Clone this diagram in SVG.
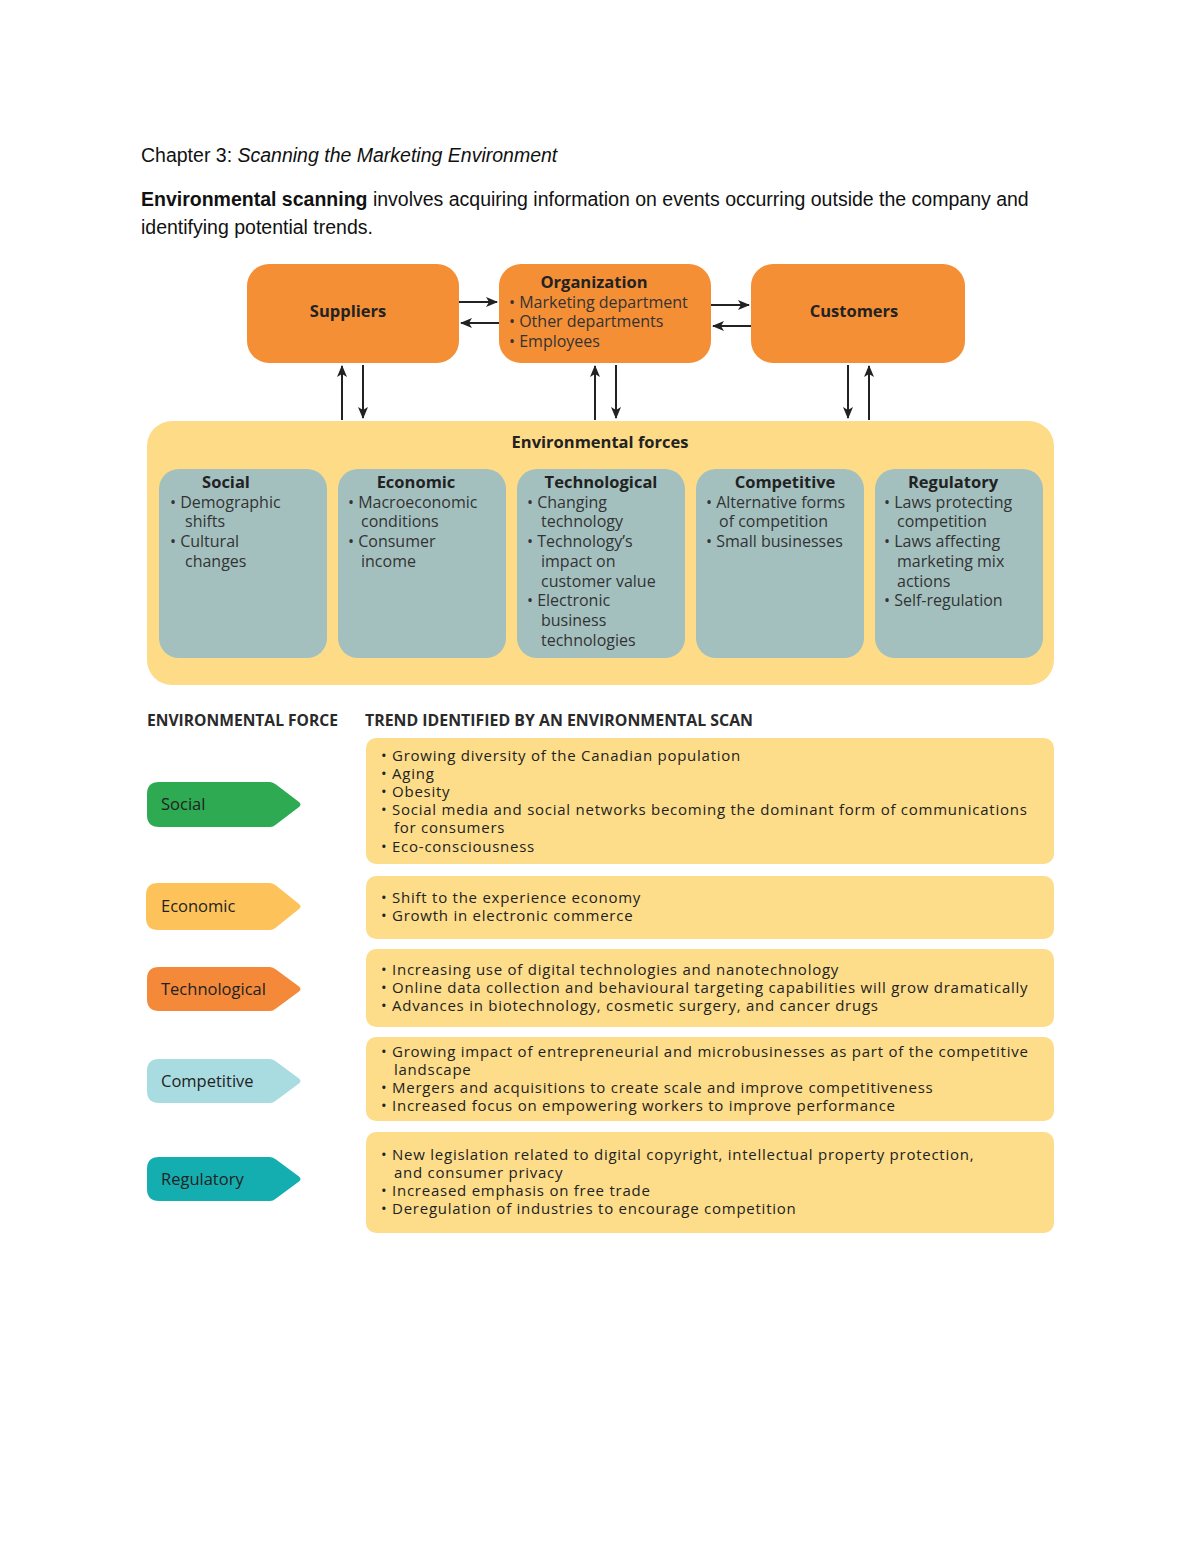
<svg xmlns="http://www.w3.org/2000/svg" width="1200" height="1553" viewBox="0 0 1200 1553">
<defs>
<marker id="ah" viewBox="0 0 12 10" refX="11" refY="5" markerWidth="12" markerHeight="10" markerUnits="userSpaceOnUse" orient="auto">
<path d="M0,0 L12,5 L0,10 L3,5 Z" fill="#222"/>
</marker>
<style>
.doc{font-family:"Liberation Sans",Arial,sans-serif;font-size:19.5px;fill:#111}
.dg{font-family:"Open Sans","Liberation Sans",sans-serif;fill:#222}
.top{fill:#F58F36}
.env{fill:#FDDB87}
.inner{fill:#A3C0BF}
.trend{fill:#FDDD8A}
.hd{font-size:16.5px;font-weight:bold}
.it{font-size:16px;fill:#333}
.tr{font-size:15px;letter-spacing:0.75px;fill:#222}
.tag{font-size:16.5px;fill:#222}
.th{font-size:15.5px;font-weight:bold;fill:#2a2a2a}
.conn line{stroke:#222;stroke-width:2;marker-end:url(#ah)}
</style>
</defs>
<rect width="1200" height="1553" fill="#fff"/>

<g id="title">
<text class="doc" x="141" y="162">Chapter 3: <tspan font-style="italic">Scanning the Marketing Environment</tspan></text>
<text class="doc" x="141" y="206"><tspan font-weight="bold">Environmental scanning</tspan> involves acquiring information on events occurring outside the company and</text>
<text class="doc" x="141" y="234">identifying potential trends.</text>
</g>

<g id="suppliers">
<rect class="top" x="247" y="264" width="212" height="99" rx="22"/>
<text class="dg hd" x="348" y="317" text-anchor="middle">Suppliers</text>
</g>
<g id="organization">
<rect class="top" x="499" y="264" width="212" height="99" rx="22"/>
<text class="dg hd" x="594" y="288" text-anchor="middle">Organization</text>
<text class="dg it" x="509" y="308">• Marketing department</text>
<text class="dg it" x="509" y="327">• Other departments</text>
<text class="dg it" x="509" y="347">• Employees</text>
</g>
<g id="customers">
<rect class="top" x="751" y="264" width="214" height="99" rx="22"/>
<text class="dg hd" x="854" y="317" text-anchor="middle">Customers</text>
</g>

<g class="conn" id="connectors">
<line x1="459" y1="302" x2="497" y2="302"/>
<line x1="499" y1="323" x2="461" y2="323"/>
<line x1="711" y1="305" x2="749" y2="305"/>
<line x1="751" y1="326" x2="713" y2="326"/>
<line x1="342" y1="420" x2="342" y2="366"/>
<line x1="363" y1="365" x2="363" y2="418"/>
<line x1="595" y1="420" x2="595" y2="366"/>
<line x1="616" y1="365" x2="616" y2="418"/>
<line x1="848" y1="365" x2="848" y2="418"/>
<line x1="869" y1="420" x2="869" y2="366"/>
</g>

<g id="environmental-forces">
<rect class="env" x="147" y="421" width="907" height="264" rx="25"/>
<text class="dg hd" x="600" y="448" text-anchor="middle">Environmental forces</text>
</g>

<g id="force-social">
<rect class="inner" x="159" y="469" width="168" height="189" rx="20"/>
<text class="dg hd" x="226" y="488" text-anchor="middle">Social</text>
<text class="dg it" x="170" y="508">• Demographic</text>
<text class="dg it" x="185" y="527">shifts</text>
<text class="dg it" x="170" y="547">• Cultural</text>
<text class="dg it" x="185" y="567">changes</text>
</g>
<g id="force-economic">
<rect class="inner" x="338" y="469" width="168" height="189" rx="20"/>
<text class="dg hd" x="416" y="488" text-anchor="middle">Economic</text>
<text class="dg it" x="348" y="508">• Macroeconomic</text>
<text class="dg it" x="361" y="527">conditions</text>
<text class="dg it" x="348" y="547">• Consumer</text>
<text class="dg it" x="361" y="567">income</text>
</g>
<g id="force-technological">
<rect class="inner" x="517" y="469" width="168" height="189" rx="20"/>
<text class="dg hd" x="601" y="488" text-anchor="middle">Technological</text>
<text class="dg it" x="527" y="508">• Changing</text>
<text class="dg it" x="541" y="527">technology</text>
<text class="dg it" x="527" y="547">• Technology’s</text>
<text class="dg it" x="541" y="567">impact on</text>
<text class="dg it" x="541" y="587">customer value</text>
<text class="dg it" x="527" y="606">• Electronic</text>
<text class="dg it" x="541" y="626">business</text>
<text class="dg it" x="541" y="646">technologies</text>
</g>
<g id="force-competitive">
<rect class="inner" x="696" y="469" width="168" height="189" rx="20"/>
<text class="dg hd" x="785" y="488" text-anchor="middle">Competitive</text>
<text class="dg it" x="706" y="508">• Alternative forms</text>
<text class="dg it" x="719" y="527">of competition</text>
<text class="dg it" x="706" y="547">• Small businesses</text>
</g>
<g id="force-regulatory">
<rect class="inner" x="875" y="469" width="168" height="189" rx="20"/>
<text class="dg hd" x="953" y="488" text-anchor="middle">Regulatory</text>
<text class="dg it" x="884" y="508">• Laws protecting</text>
<text class="dg it" x="897" y="527">competition</text>
<text class="dg it" x="884" y="547">• Laws affecting</text>
<text class="dg it" x="897" y="567">marketing mix</text>
<text class="dg it" x="897" y="587">actions</text>
<text class="dg it" x="884" y="606">• Self-regulation</text>
</g>

<g id="table-headers">
<text class="dg th" x="147" y="726" textLength="191" lengthAdjust="spacingAndGlyphs">ENVIRONMENTAL FORCE</text>
<text class="dg th" x="365" y="726" textLength="388" lengthAdjust="spacingAndGlyphs">TREND IDENTIFIED BY AN ENVIRONMENTAL SCAN</text>
</g>

<g id="tag-social">
<path d="M159,782 H270 Q273,782 276,784.5 L299,802 Q302,804.5 299,807 L276,824.5 Q273,827 270,827 H159 Q147,827 147,815 V794 Q147,782 159,782 Z" fill="#2EAA52"/>
<text class="dg tag" x="161" y="810">Social</text>
</g>
<g id="trend-social">
<rect class="trend" x="366" y="738" width="688" height="126" rx="10"/>
<text class="dg tr" x="381" y="761">• Growing diversity of the Canadian population</text>
<text class="dg tr" x="381" y="779">• Aging</text>
<text class="dg tr" x="381" y="797">• Obesity</text>
<text class="dg tr" x="381" y="815">• Social media and social networks becoming the dominant form of communications</text>
<text class="dg tr" x="394" y="833">for consumers</text>
<text class="dg tr" x="381" y="852">• Eco-consciousness</text>
</g>

<g id="tag-economic">
<path d="M158,883 H270 Q273,883 276,885.5 L299,904 Q302,906.5 299,909 L276,927.5 Q273,930 270,930 H158 Q146,930 146,918 V895 Q146,883 158,883 Z" fill="#FDC35A"/>
<text class="dg tag" x="161" y="912">Economic</text>
</g>
<g id="trend-economic">
<rect class="trend" x="366" y="876" width="688" height="63" rx="10"/>
<text class="dg tr" x="381" y="903">• Shift to the experience economy</text>
<text class="dg tr" x="381" y="921">• Growth in electronic commerce</text>
</g>

<g id="tag-technological">
<path d="M159,967 H270 Q273,967 276,969.5 L299,986.5 Q302,989 299,991.5 L276,1008.5 Q273,1011 270,1011 H159 Q147,1011 147,999 V979 Q147,967 159,967 Z" fill="#F4893A"/>
<text class="dg tag" x="161" y="995">Technological</text>
</g>
<g id="trend-technological">
<rect class="trend" x="366" y="949" width="688" height="78" rx="10"/>
<text class="dg tr" x="381" y="975">• Increasing use of digital technologies and nanotechnology</text>
<text class="dg tr" x="381" y="993">• Online data collection and behavioural targeting capabilities will grow dramatically</text>
<text class="dg tr" x="381" y="1011">• Advances in biotechnology, cosmetic surgery, and cancer drugs</text>
</g>

<g id="tag-competitive">
<path d="M159,1059 H270 Q273,1059 276,1061.5 L299,1078.5 Q302,1081 299,1083.5 L276,1100.5 Q273,1103 270,1103 H159 Q147,1103 147,1091 V1071 Q147,1059 159,1059 Z" fill="#A8DCE0"/>
<text class="dg tag" x="161" y="1087">Competitive</text>
</g>
<g id="trend-competitive">
<rect class="trend" x="366" y="1037" width="688" height="84" rx="10"/>
<text class="dg tr" x="381" y="1057">• Growing impact of entrepreneurial and microbusinesses as part of the competitive</text>
<text class="dg tr" x="394" y="1075">landscape</text>
<text class="dg tr" x="381" y="1093">• Mergers and acquisitions to create scale and improve competitiveness</text>
<text class="dg tr" x="381" y="1111">• Increased focus on empowering workers to improve performance</text>
</g>

<g id="tag-regulatory">
<path d="M159,1157 H270 Q273,1157 276,1159.5 L299,1176.5 Q302,1179 299,1181.5 L276,1198.5 Q273,1201 270,1201 H159 Q147,1201 147,1189 V1169 Q147,1157 159,1157 Z" fill="#15AEB0"/>
<text class="dg tag" x="161" y="1185">Regulatory</text>
</g>
<g id="trend-regulatory">
<rect class="trend" x="366" y="1132" width="688" height="101" rx="10"/>
<text class="dg tr" x="381" y="1160">• New legislation related to digital copyright, intellectual property protection,</text>
<text class="dg tr" x="394" y="1178">and consumer privacy</text>
<text class="dg tr" x="381" y="1196">• Increased emphasis on free trade</text>
<text class="dg tr" x="381" y="1214">• Deregulation of industries to encourage competition</text>
</g>
</svg>
